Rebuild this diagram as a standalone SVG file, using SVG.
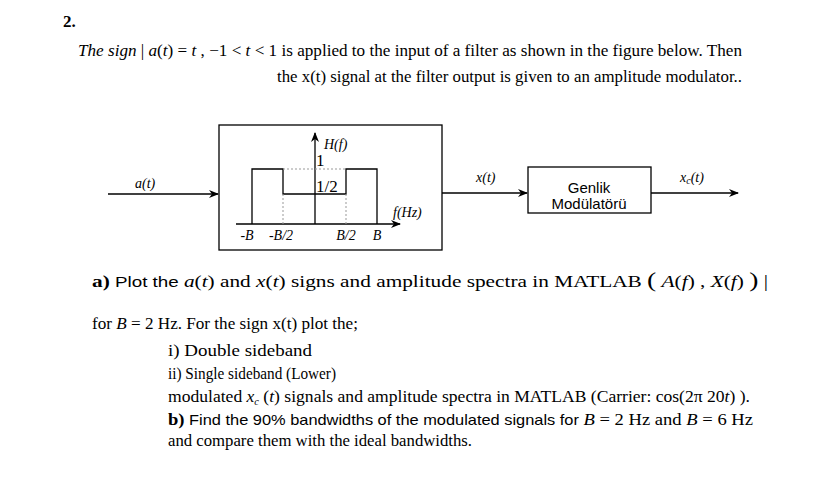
<svg xmlns="http://www.w3.org/2000/svg" width="823" height="479" viewBox="0 0 823 479">
<style>
.t{font-family:"Liberation Serif",serif;font-size:17px;fill:#000}
.s{font-family:"Liberation Sans",sans-serif;font-size:15px;fill:#000}
.m{font-family:"Liberation Serif",serif;font-style:italic;font-size:14px;fill:#000}
.ln{stroke:#000;stroke-width:1.3;fill:none}
.dot{stroke:#999;stroke-width:1;stroke-dasharray:2 2;fill:none}
</style>
<defs><marker id="ar" markerWidth="10" markerHeight="8" refX="9" refY="4" orient="auto" markerUnits="userSpaceOnUse"><path d="M0,0 L10,4 L0,8 L3,4 Z" fill="#000"/></marker></defs>
<rect width="823" height="479" fill="#fff"/>
<text x="63" y="27" class="t" font-weight="bold">2.</text>
<text x="78" y="56" class="t" textLength="664" lengthAdjust="spacingAndGlyphs"><tspan font-style="italic">The sign</tspan> | <tspan font-style="italic">a</tspan>(<tspan font-style="italic">t</tspan>) = <tspan font-style="italic">t</tspan> , −1 &lt; <tspan font-style="italic">t</tspan> &lt; 1  is applied to the input of a filter as shown in the figure below. Then</text>
<text x="277" y="82" class="t" textLength="465" lengthAdjust="spacingAndGlyphs">the x(t) signal at the filter output is given to an amplitude modulator..</text>
<g id="filter">
<rect x="219" y="125" width="223" height="125" class="ln" fill="#fff"/>
<line x1="236" y1="224" x2="400" y2="224" class="ln" marker-end="url(#ar)"/>
<line x1="315" y1="224" x2="315" y2="133" class="ln" marker-end="url(#ar)"/>
<polyline points="252,224 252,169 283,169 283,194 346,194 346,169 377,169 377,224" class="ln"/>
<line x1="283" y1="169" x2="346" y2="169" class="dot"/>
<line x1="283" y1="194" x2="283" y2="224" class="dot"/>
<line x1="346" y1="194" x2="346" y2="224" class="dot"/>
<text x="324" y="149" class="m" font-size="15">H(f)</text>
<text x="316" y="166" class="t" font-size="11">1</text>
<text x="316" y="192" class="t" font-size="11">1/2</text>
<text x="393" y="217" class="m" font-size="15">f(Hz)</text>
<text x="247" y="240" class="m" font-size="12" text-anchor="middle">-B</text>
<text x="281" y="240" class="m" font-size="12" text-anchor="middle">-B/2</text>
<text x="346" y="240" class="m" font-size="12" text-anchor="middle">B/2</text>
<text x="377" y="240" class="m" font-size="12" text-anchor="middle">B</text>
</g>
<g id="modulator">
<rect x="528" y="167" width="123" height="46" class="ln" fill="#fff"/>
<text x="589" y="193" class="s" font-size="11" text-anchor="middle">Genlik</text>
<text x="589" y="209" class="s" font-size="11" text-anchor="middle">Modülatörü</text>
</g>
<g id="connectors">
<line x1="108" y1="194" x2="218" y2="194" class="ln" marker-end="url(#ar)"/>
<line x1="442" y1="193" x2="527" y2="193" class="ln" marker-end="url(#ar)"/>
<line x1="651" y1="193" x2="738" y2="193" class="ln" marker-end="url(#ar)"/>
<text x="135" y="188" class="m" font-size="15">a(t)</text>
<text x="476" y="182" class="m" font-size="15">x(t)</text>
<text x="680" y="182" class="m" font-size="15">x<tspan font-size="10" dy="2">c</tspan><tspan dy="-2">(t)</tspan></text>
</g>
<text x="92" y="287" class="t" textLength="676" lengthAdjust="spacingAndGlyphs"><tspan font-weight="bold">a)</tspan><tspan class="s" font-size="16"> Plot the </tspan><tspan font-style="italic">a</tspan>(<tspan font-style="italic">t</tspan>)   and   <tspan font-style="italic">x</tspan>(<tspan font-style="italic">t</tspan>) signs and amplitude spectra in MATLAB <tspan font-size="22">(</tspan> <tspan font-style="italic">A</tspan>(<tspan font-style="italic">f</tspan>) , <tspan font-style="italic">X</tspan>(<tspan font-style="italic">f</tspan>) <tspan font-size="22">)</tspan>   |</text>
<text x="92" y="329" class="t" textLength="266" lengthAdjust="spacingAndGlyphs">for <tspan font-style="italic">B</tspan> = 2 Hz. For the sign x(t) plot the;</text>
<text x="168" y="356" class="t" textLength="144" lengthAdjust="spacingAndGlyphs">i)   Double sideband</text>
<text x="168" y="379" class="t" textLength="168" lengthAdjust="spacingAndGlyphs">ii) Single sideband (Lower)</text>
<text x="168" y="402" class="t" textLength="582" lengthAdjust="spacingAndGlyphs">modulated <tspan font-style="italic">x</tspan><tspan font-style="italic" font-size="10" dy="3">c</tspan><tspan dy="-3"> (</tspan><tspan font-style="italic">t</tspan>) signals and amplitude spectra in MATLAB (Carrier: cos(2π 20<tspan font-style="italic">t</tspan>) ).</text>
<text x="168" y="425" class="t" textLength="585" lengthAdjust="spacingAndGlyphs"><tspan font-weight="bold">b)</tspan><tspan class="s" font-size="16"> Find the 90% bandwidths of the modulated signals for </tspan><tspan font-style="italic">B</tspan> = 2 Hz and <tspan font-style="italic">B</tspan> = 6 Hz</text>
<text x="168" y="446" class="t" textLength="304" lengthAdjust="spacingAndGlyphs">and compare them with the ideal bandwidths.</text>
</svg>
